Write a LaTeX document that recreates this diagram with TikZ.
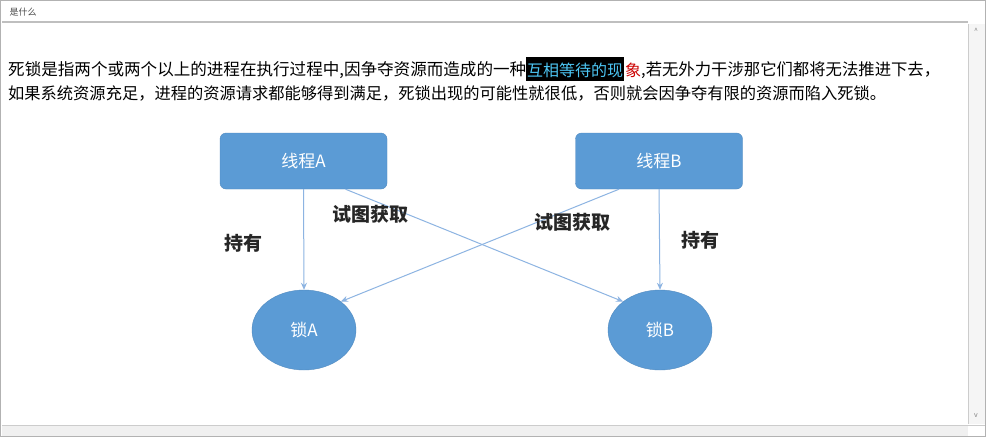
\documentclass[tikz,border=0pt]{standalone}
\usepackage{fontspec}
\setmainfont{Noto Sans CJK SC}
\usetikzlibrary{shapes.geometric,arrows.meta}
\definecolor{boxblue}{HTML}{5B9BD5}
\definecolor{arr}{HTML}{8DB4E2}
\tikzset{
 thread/.style={draw=boxblue!90!black,fill=boxblue,rounded corners=6pt,minimum width=167pt,minimum height=56pt,text=white,font=\fontsize{17}{17}\selectfont},
 lock/.style={ellipse,draw=boxblue!90!black,fill=boxblue,minimum width=104pt,minimum height=80pt,text=white,font=\fontsize{17}{17}\selectfont},
 conn/.style={draw=arr,line width=1pt,-{Stealth[length=7pt,width=6pt]}},
 lab/.style={font=\fontsize{19}{19}\selectfont\bfseries,text=black!85},
 body/.style={font=\fontsize{16}{16}\selectfont,inner sep=0pt,anchor=west}
}
\begin{document}
\begin{tikzpicture}[x=1pt,y=-1pt]
\useasboundingbox (0,0) rectangle (986,437);
\fill[white] (0,0) rectangle (986,437);
\draw[gray!60] (0.5,0.5) rectangle (985.5,436.5);
\draw[gray!50,line width=1.5pt] (2,22) -- (968,22);
\node[anchor=west,font=\fontsize{9}{9}\selectfont,text=black!70] (title) at (6,12) {是什么};
\fill[gray!8] (968,24) rectangle (985,424);
\draw[gray!40] (968,24) -- (968,424);
\node[font=\fontsize{7}{7}\selectfont,text=gray] (up) at (976,31) {\^{}};
\node[font=\fontsize{7}{7}\selectfont,text=gray] (dn) at (976,416) {v};
\fill[gray!12] (2,425) rectangle (968,436);
\draw[gray!40] (2,425) -- (985,425);
% text
\node[body] (t1) at (8,70) {\resizebox{518pt}{!}{死锁是指两个或两个以上的进程在执行过程中,因争夺资源而造成的一种}};
\fill[black] (526,57) rectangle (624,81);
\node[body,text=cyan!70!white] (t2) at (527,70) {\resizebox{96pt}{!}{互相等待的现}};
\node[body,text=red!80!black] (t3) at (625,70) {象};
\node[body] (t4) at (641,70) {\resizebox{299pt}{!}{,若无外力干涉那它们都将无法推进下去，}};
\node[body] (t5) at (8,93) {\resizebox{878pt}{!}{如果系统资源充足，进程的资源请求都能够得到满足，死锁出现的可能性就很低，否则就会因争夺有限的资源而陷入死锁。}};
% diagram
\node[thread] (ta) at (303.5,161) {线程A};
\node[thread] (tb) at (659,161) {线程B};
\node[lock] (la) at (304,330) {锁A};
\node[lock] (lb) at (660,330) {锁B};
\draw[conn] (ta.south) -- (la.north);
\draw[conn] (tb.south) -- (lb.north);
\draw[conn] ([xshift=42pt]ta.south) -- (lb.north west);
\draw[conn] ([xshift=-40pt]tb.south) -- (la.north east);
\node[lab] (h1) at (243,243) {持有};
\node[lab] (g1) at (370,214) {试图获取};
\node[lab] (g2) at (572,222) {试图获取};
\node[lab] (h2) at (700,240) {持有};
\end{tikzpicture}
\end{document}
